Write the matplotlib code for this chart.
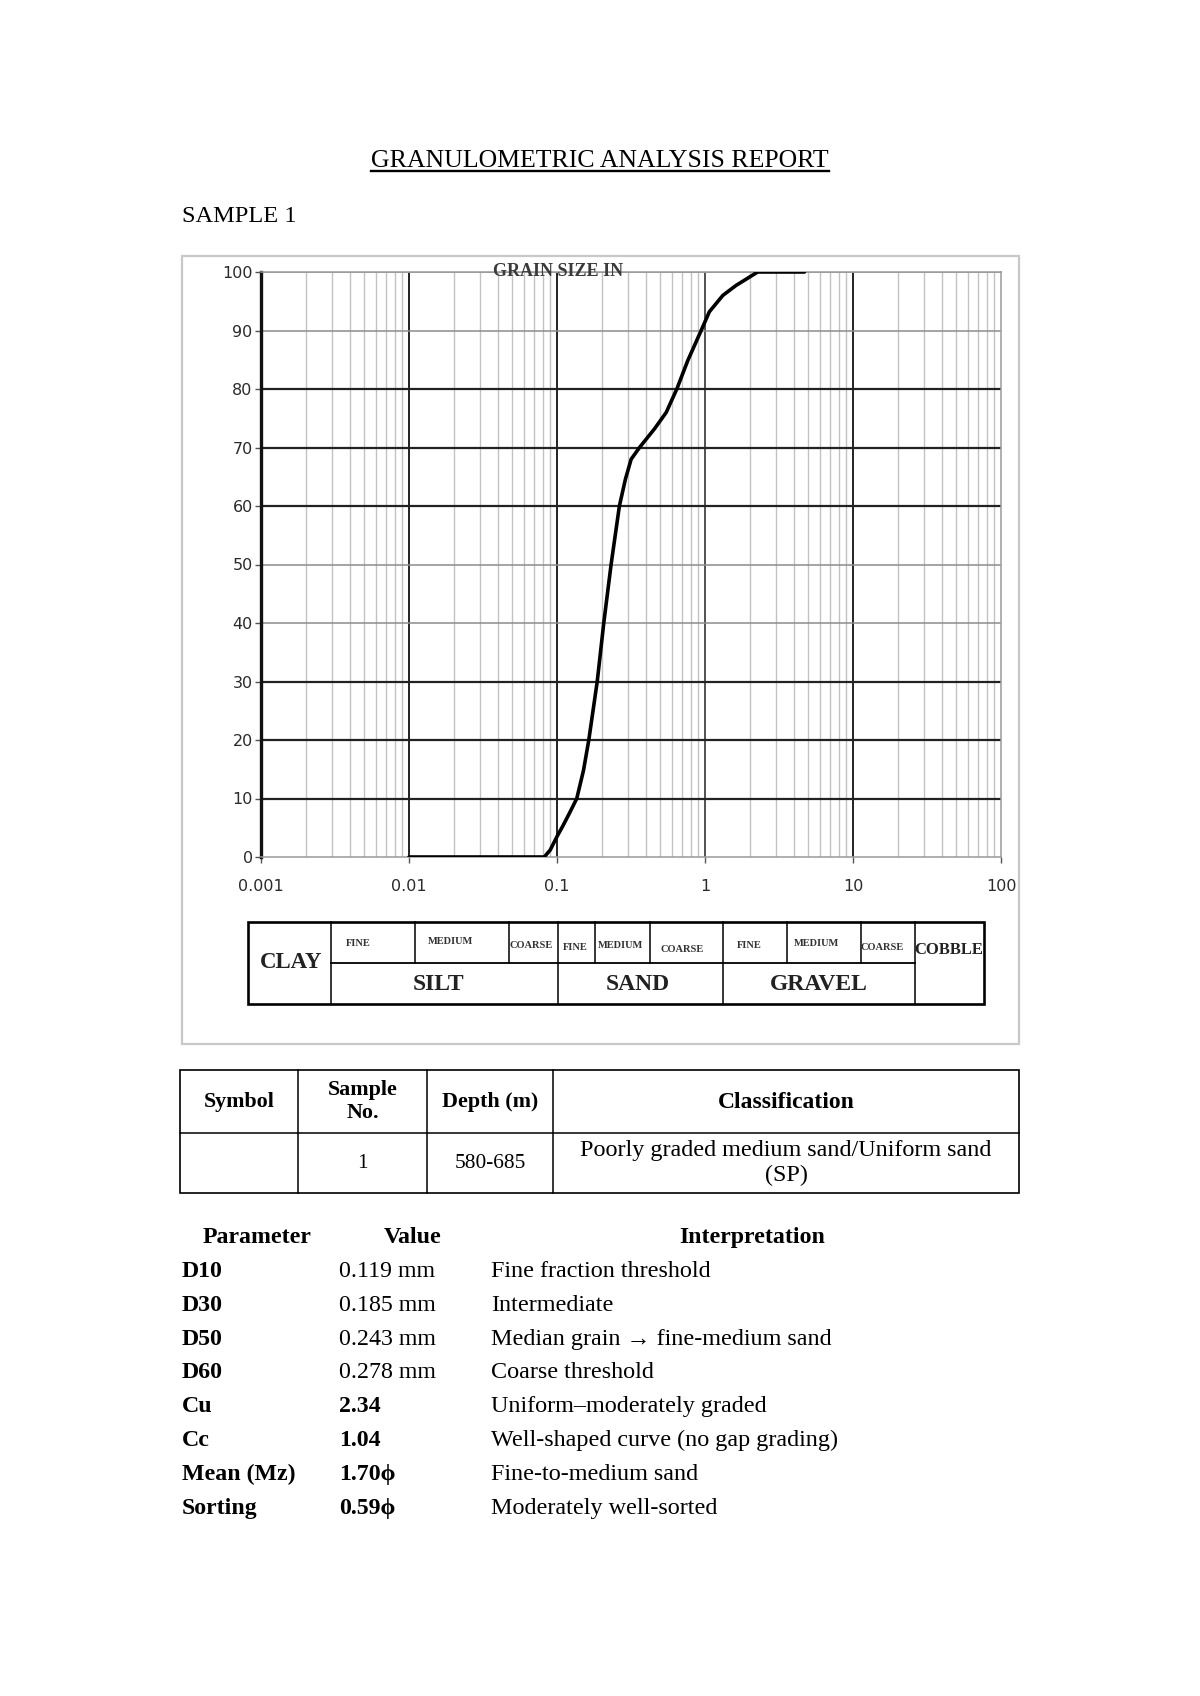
import matplotlib
matplotlib.use("Agg")
import matplotlib.pyplot as plt
from matplotlib.patches import Rectangle

# --- data ---
# grain size (mm) vs. percent passing
grain_size = [0.01, 0.03, 0.082, 0.09, 0.1, 0.11, 0.122, 0.136, 0.151, 0.164,
              0.187, 0.207, 0.232, 0.264, 0.29, 0.317, 0.361, 0.456, 0.547,
              0.645, 0.766, 0.942, 1.07, 1.32, 1.62, 2.27, 4.7]
passing = [0, 0, 0, 1.2, 3.5, 5.4, 7.6, 10, 14.8, 20,
           30, 40, 50, 60, 64.6, 68, 70, 73.2, 76,
           80, 84.9, 90, 93.2, 96, 97.7, 100, 100]

x_ticks = [0.001, 0.01, 0.1, 1, 10, 100]
x_tick_labels = ['0.001', '0.01', '0.1', '1', '10', '100']
y_ticks = list(range(0, 101, 10))
dark_levels = [10, 20, 30, 60, 70, 80]

sub_labels = ['FINE', 'MEDIUM', 'COARSE', 'FINE', 'MEDIUM', 'COARSE',
              'FINE', 'MEDIUM', 'COARSE']
group_labels = ['SILT', 'SAND', 'GRAVEL']

table_header = ['Symbol', 'Sample\nNo.', 'Depth (m)', 'Classification']
table_row = ['', '1', '580-685', 'Poorly graded medium sand/Uniform sand\n(SP)']

param_names = ['D10', 'D30', 'D50', 'D60', 'Cu', 'Cc', 'Mean (Mz)', 'Sorting']
param_values = ['0.119 mm', '0.185 mm', '0.243 mm', '0.278 mm',
                '2.34', '1.04', '1.70\u03d5', '0.59\u03d5']
value_bold = [False, False, False, False, True, True, True, True]
param_notes = ['Fine fraction threshold', 'Intermediate',
               'Median grain \u2192 fine-medium sand', 'Coarse threshold',
               'Uniform\u2013moderately graded', 'Well-shaped curve (no gap grading)',
               'Fine-to-medium sand', 'Moderately well-sorted']

W, H = 1200, 1696
SERIF = ['Liberation Serif', 'DejaVu Serif']


def fig_box(x0, y0, x1, y1):
    return [x0 / W, 1 - y1 / H, (x1 - x0) / W, (y1 - y0) / H]


fig = plt.figure(figsize=(12, 16.96), dpi=100)
page = fig.add_axes([0, 0, 1, 1])
page.set_xlim(0, W)
page.set_ylim(H, 0)
page.axis('off')

# title + heading
page.text(600, 167, 'GRANULOMETRIC ANALYSIS REPORT', family=SERIF, fontsize=18.6,
          ha='center', va='baseline')
page.plot([371, 829], [171, 171], color='black', lw=1.7)
page.text(182, 222, 'SAMPLE 1', family=SERIF, fontsize=17.6, va='baseline')

# chart frame
page.add_patch(Rectangle((182, 256), 837, 788, fill=False, ec='#c8c8c8', lw=1.6))

# --- grain size chart ---
ax = fig.add_axes(fig_box(261, 272, 1001, 857))
ax.set_xscale('log')
ax.set_xlim(0.001, 100)
ax.set_ylim(0, 100)

for dec in [0.001, 0.01, 0.1, 1, 10]:
    for m in range(2, 10):
        ax.axvline(dec * m, color='#c2c2c2', lw=1.0, zorder=1)
for xv in [0.01, 0.1, 10]:
    ax.axvline(xv, color='#111111', lw=1.3, zorder=2)
ax.axvline(1, color='#444444', lw=1.3, zorder=2)
for yv in y_ticks[1:]:
    if yv in dark_levels:
        ax.axhline(yv, color='#222222', lw=1.6, zorder=2)
    else:
        ax.axhline(yv, color='#8c8c8c', lw=1.1, zorder=2)

ax.plot(grain_size, passing, color='black', lw=2.6, zorder=4,
        solid_joinstyle='round', solid_capstyle='round')

for side in ['top', 'right', 'bottom']:
    ax.spines[side].set_color('#9a9a9a')
    ax.spines[side].set_linewidth(1.1)
ax.spines['left'].set_color('#111111')
ax.spines['left'].set_linewidth(2.4)

ax.set_yticks(y_ticks)
ax.set_xticks(x_ticks)
ax.set_xticklabels(x_tick_labels)
ax.minorticks_off()
ax.tick_params(axis='y', length=4, width=1, color='#555555', pad=2,
               labelsize=11.5, labelcolor='#2a2a2a')
ax.tick_params(axis='x', length=4, width=1, color='#555555', pad=12,
               labelsize=11.5, labelcolor='#2a2a2a')
ax.text(0.401, 0.994, 'GRAIN SIZE IN', transform=ax.transAxes, ha='center',
        va='baseline', family=SERIF, fontsize=13, fontweight='bold',
        color='#3a3a3a', zorder=6)

# --- classification band ---
c_l, c_r, c_t, c_m, c_b = 248, 984, 922, 963, 1004
page.add_patch(Rectangle((c_l, c_t), c_r - c_l, c_b - c_t, fill=False, ec='black', lw=1.9))
for xv in [331, 558, 723, 915]:
    page.plot([xv, xv], [c_t, c_b], color='black', lw=1.1)
for xv in [415, 509, 595, 650, 787, 861]:
    page.plot([xv, xv], [c_t, c_m], color='black', lw=1.1)
page.plot([331, 915], [c_m, c_m], color='black', lw=1.3)

sub_x = [358, 450, 531, 575, 620, 682, 749, 816, 882]
sub_y = [943, 941, 946, 947, 946, 949, 945, 944, 947]
for lab, xv, yv in zip(sub_labels, sub_x, sub_y):
    page.text(xv, yv, lab, family=SERIF, fontsize=7.5, fontweight='bold',
              color='#333333', ha='center', va='center')
page.text(291, 963, 'CLAY', family=SERIF, fontsize=16.5, fontweight='bold',
          color='#222222', ha='center', va='center')
page.text(949, 950, 'COBBLE', family=SERIF, fontsize=12, fontweight='bold',
          color='#222222', ha='center', va='center')
for lab, xv in zip(group_labels, [438, 638, 819]):
    page.text(xv, 984, lab, family=SERIF, fontsize=17, fontweight='bold',
              color='#222222', ha='center', va='center')

# --- sample table ---
t_l, t_r, t_t, t_m, t_b = 180, 1019, 1070, 1133, 1193
page.add_patch(Rectangle((t_l, t_t), t_r - t_l, t_b - t_t, fill=False, ec='black', lw=1.2))
page.plot([t_l, t_r], [t_m, t_m], color='black', lw=1.1)
col_edges = [t_l, 298, 427, 553, t_r]
for xv in col_edges[1:-1]:
    page.plot([xv, xv], [t_t, t_b], color='black', lw=1.1)
for i, (hd, cell) in enumerate(zip(table_header, table_row)):
    cx = (col_edges[i] + col_edges[i + 1]) / 2
    page.text(cx, 1102, hd, family=SERIF, fontsize=17 if i == 3 else 15.8,
              fontweight='bold', ha='center', va='center', linespacing=1.2)
    page.text(cx, 1163, cell, family=SERIF, fontsize=17.4 if i == 3 else 15.4,
              ha='center', va='center', linespacing=1.2)

# --- parameter list ---
page.text(257, 1243, 'Parameter', family=SERIF, fontsize=17.2, fontweight='bold',
          ha='center', va='baseline')
page.text(413, 1243, 'Value', family=SERIF, fontsize=17.2, fontweight='bold',
          ha='center', va='baseline')
page.text(752, 1243, 'Interpretation', family=SERIF, fontsize=17.2, fontweight='bold',
          ha='center', va='baseline')
for i, (nm, val, bold, note) in enumerate(zip(param_names, param_values,
                                              value_bold, param_notes)):
    yb = 1277 + i * 33.8
    page.text(182, yb, nm, family=SERIF, fontsize=17.2, fontweight='bold', va='baseline')
    page.text(339, yb, val, family=SERIF, fontsize=17.2,
              fontweight='bold' if bold else 'normal', va='baseline')
    page.text(491, yb, note, family=SERIF, fontsize=17.4, va='baseline')

fig.savefig('out.png', dpi=100, facecolor='white')
